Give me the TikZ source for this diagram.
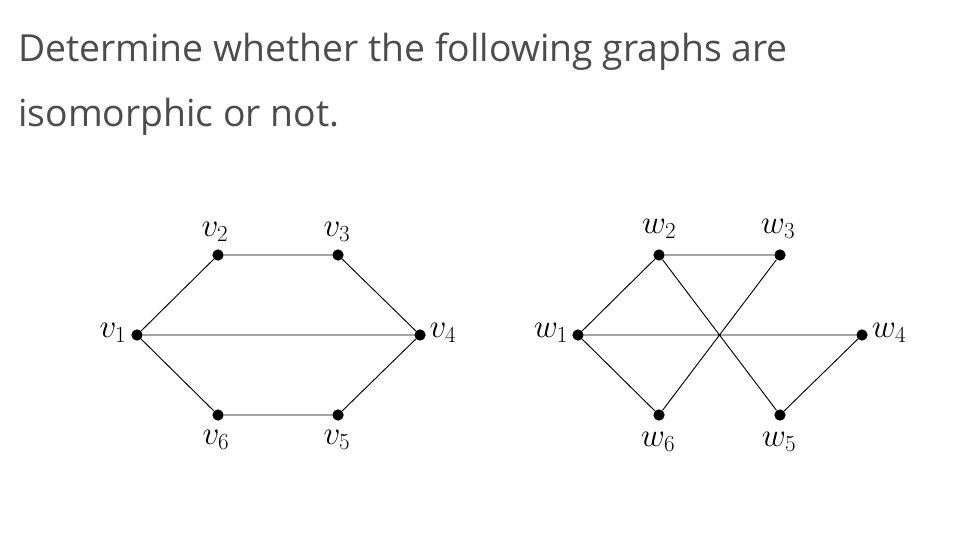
\documentclass[tikz,border=0pt]{standalone}
\usepackage{fontspec}
\setmainfont{Open Sans}
\begin{document}
\begin{tikzpicture}[x=0.75pt,y=-0.75pt,
  vtx/.style={circle,fill=black,inner sep=0pt,minimum size=8.5pt},
  edge/.style={draw=black,line width=0.7pt},
  lbl/.style={font=\fontsize{23}{23}\selectfont,inner sep=0pt},
  title/.style={anchor=west,text=black!70,font=\fontsize{28}{32}\selectfont,inner sep=0pt}]
\useasboundingbox (0,0) rectangle (967,556);
\node[title] (t1) at (18,52) {Determine whether the following graphs are};
\node[title] (t2) at (18,117) {isomorphic or not.};
% left graph
\node[vtx] (v1) at (137,335) {};
\node[vtx] (v2) at (218,255) {};
\node[vtx] (v3) at (338,255) {};
\node[vtx] (v4) at (420,335) {};
\node[vtx] (v6) at (218,415) {};
\node[vtx] (v5) at (338,415) {};
\draw[edge] (v1)--(v2)--(v3)--(v4)--(v5)--(v6)--(v1) (v1)--(v4);
\node[lbl] (lv1) at (113,333) {$v_1$};
\node[lbl] (lv2) at (215,232) {$v_2$};
\node[lbl] (lv3) at (337,232) {$v_3$};
\node[lbl] (lv4) at (443,333) {$v_4$};
\node[lbl] (lv6) at (216,440) {$v_6$};
\node[lbl] (lv5) at (337,440) {$v_5$};
% right graph
\node[vtx] (w1) at (578,335) {};
\node[vtx] (w2) at (659,255) {};
\node[vtx] (w3) at (780,255) {};
\node[vtx] (w4) at (862,335) {};
\node[vtx] (w6) at (659,415) {};
\node[vtx] (w5) at (780,415) {};
\draw[edge] (w1)--(w2)--(w3)--(w6)--(w1) (w2)--(w5)--(w4)--(w1);
\node[lbl] (lw1) at (551,333) {$w_1$};
\node[lbl] (lw2) at (659,229) {$w_2$};
\node[lbl] (lw3) at (778,229) {$w_3$};
\node[lbl] (lw4) at (889,333) {$w_4$};
\node[lbl] (lw6) at (658,442) {$w_6$};
\node[lbl] (lw5) at (779,442) {$w_5$};
\end{tikzpicture}
\end{document}
